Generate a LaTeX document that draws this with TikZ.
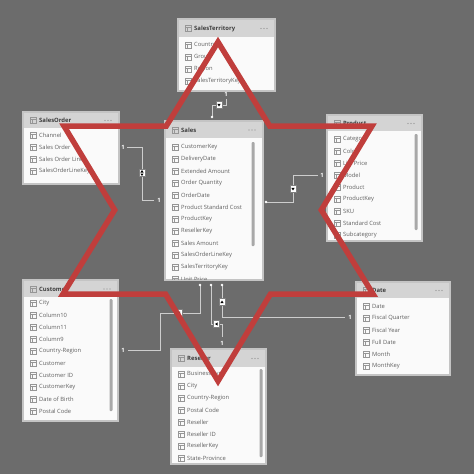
\documentclass[tikz,border=0pt]{standalone}
\usepackage{fontspec}
\setmainfont{Open Sans}
\usetikzlibrary{calc}
\definecolor{bg}{RGB}{108,108,108}
\definecolor{hdr}{RGB}{212,212,212}
\definecolor{body}{RGB}{250,250,250}
\definecolor{frame}{RGB}{196,196,196}
\definecolor{txt}{RGB}{95,95,95}
\definecolor{hdrtxt}{RGB}{60,60,60}
\definecolor{ico}{RGB}{150,150,150}
\definecolor{sb}{RGB}{168,168,168}
\definecolor{star}{RGB}{192,62,60}
\definecolor{conn}{RGB}{205,205,205}
\tikzset{
  hdrtext/.style={font=\fontsize{5.9}{7}\selectfont\bfseries, text=hdrtxt, inner sep=0, anchor=west},
  rowtext/.style={font=\fontsize{5.8}{7}\selectfont, text=txt, inner sep=0, anchor=west},
  tblicon/.style={draw=ico, line width=0.45pt},
  link/.style={draw=conn, line width=0.8pt},
  onelbl/.style={font=\fontsize{5.8}{7}\selectfont\bfseries, text=white, inner sep=0},
  enddot/.style={circle, fill=white, inner sep=0, minimum size=2.6pt},
  relicon/.style={fill=white, draw=black!50, line width=0.3pt, minimum width=6pt, minimum height=7pt, inner sep=0},
  starline/.style={draw=star, line width=5.5pt, line join=miter, miter limit=20},
}
% small table glyph centred vertically at y
\newcommand\tblglyph[2]{%
  \pgfmathsetmacro\gx{#1}\pgfmathsetmacro\gy{#2}%
  \draw[tblicon] (\gx,\gy-2.8) rectangle (\gx+6.5,\gy+2.8);
  \draw[tblicon] (\gx,\gy-1.2) -- (\gx+6.5,\gy-1.2);
  \draw[tblicon] (\gx+2.2,\gy-1.2) -- (\gx+2.2,\gy+2.8);
}
% name, left, top, right, header bottom, bottom, first row y, title, rows
\newcommand\dbtable[9]{%
  \fill[frame] (#2-1.6,#3-1.6) rectangle (#4+1.6,#6+1.6);
  \fill[body] (#2,#3) rectangle (#4,#6);
  \fill[hdr] (#2,#3) rectangle (#4,#5);
  \tblglyph{#2+6}{(#3+#5)/2}
  \node[hdrtext] (#1) at (#2+15,{(#3+#5)/2}) {#8};
  \foreach \dx in {-13,-10,-7}{\fill[black!45] (#4+\dx,{(#3+#5)/2}) circle (0.55);}
  \begin{scope}
    \clip (#2,#5) rectangle (#4,#6);
    \foreach \r [count=\k from 0] in {#9}{%
      \pgfmathsetmacro\ry{#7+12*\k}
      \tblglyph{#2+6}{\ry}
      \node[rowtext] (#1-\k) at (#2+15,\ry) {\r};
    }
  \end{scope}
}
\newcommand\scrollbar[3]{\fill[sb, rounded corners=1pt] (#1-1.5,#2) rectangle (#1+1.5,#3);}
\begin{document}
\begin{tikzpicture}[x=1pt,y=-1pt]
\fill[bg] (0,0) rectangle (474,474);
\useasboundingbox (0,0) rectangle (474,474);

% tables
\dbtable{territory}{179}{20}{274}{37}{90}{45}{SalesTerritory}{Country,Group,Region,SalesTerritoryKey}
\dbtable{salesorder}{24}{113}{118}{128}{183}{135}{SalesOrder}{Channel,Sales Order,Sales Order Line,SalesOrderLineKey}
\dbtable{sales}{166}{122}{262}{138}{279}{147}{Sales}{CustomerKey,DeliveryDate,Extended Amount,Order Quantity,OrderDate,Product Standard Cost,ProductKey,ResellerKey,Sales Amount,SalesOrderLineKey,SalesTerritoryKey,Unit Price}
\dbtable{product}{328}{116}{421}{131}{240}{139}{Product}{Category,Color,List Price,Model,Product,ProductKey,SKU,Standard Cost,Subcategory}
\dbtable{customer}{24}{281}{117}{297}{420}{303}{Customer}{City,Column10,Column11,Column9,Country-Region,Customer,Customer ID,CustomerKey,Date of Birth,Postal Code}
\dbtable{date}{357}{283}{449}{298}{374}{306}{Date}{Date,Fiscal Quarter,Fiscal Year,Full Date,Month,MonthKey}
\dbtable{reseller}{172}{350}{265}{367}{463}{374}{Reseller}{Business Type,City,Country-Region,Postal Code,Reseller,Reseller ID,ResellerKey,State-Province}
\scrollbar{253}{142}{246}
\scrollbar{416}{134}{230}
\scrollbar{111}{299}{411}
\scrollbar{261}{369}{457}

% connector end points
\coordinate (tA) at (226,99);  \coordinate (tB) at (212,117);
\coordinate (soA) at (127,147); \coordinate (soB) at (154,200);
\coordinate (pA) at (266,202); \coordinate (pB) at (318,175);
\coordinate (cA) at (200,285); \coordinate (cB) at (128,350);
\coordinate (rA) at (211,285); \coordinate (rB) at (222,337);
\coordinate (dA) at (222,285); \coordinate (dB) at (345,317);

% connectors
\draw[link] (tA) |- (212,105) -- (tB);
\draw[link] (soA) -| (142,200) -- (soB);
\draw[link] (pA) -| (293,175) -- (pB);
\draw[link] (cA) |- (160,313) |- (cB);
\draw[link] (rA) |- (222,324) -- (rB);
\draw[link] (dA) |- (dB);

% end dots
\node[enddot] (dt) at (tB) {};
\node[enddot] (dp) at (pA) {};
\node[enddot] (dc) at (cA) {};
\node[enddot] (dr) at (rA) {};
\node[enddot] (dd) at (dA) {};

% "1" labels
\node[onelbl] (l1) at (226,94) {1};
\node[onelbl] (l2) at (123,147) {1};
\node[onelbl] (l3) at (159,200) {1};
\node[onelbl] (l4) at (322,175) {1};
\node[onelbl] (l5) at (123,350) {1};
\node[onelbl] (l6) at (222,343) {1};
\node[onelbl] (l7) at (350,317) {1};

% relationship direction icons
\node[relicon] (iT) at (219,105) {};
\fill (iT.center) ++(-1.7,-1.2) -- ++(3.4,0) -- ++(-1.7,2.6) -- cycle;
\node[relicon] (iSO) at (142,173) {};
\fill (iSO.center) ++(-1.6,-0.5) -- ++(3.2,0) -- ++(-1.6,-2.4) -- cycle;
\fill (iSO.center) ++(-1.6,0.5) -- ++(3.2,0) -- ++(-1.6,2.4) -- cycle;
\node[relicon] (iP) at (293,189) {};
\fill (iP.center) ++(-1.7,-1.2) -- ++(3.4,0) -- ++(-1.7,2.6) -- cycle;
\node[relicon] (iC) at (179,313) {};
\fill (iC.center) ++(1.2,-1.7) -- ++(0,3.4) -- ++(-2.6,-1.7) -- cycle;
\node[relicon] (iR) at (216.5,324) {};
\fill (iR.center) ++(1.2,-1.7) -- ++(0,3.4) -- ++(-2.6,-1.7) -- cycle;
\node[relicon] (iD) at (222,302) {};
\fill (iD.center) ++(-1.7,1.2) -- ++(3.4,0) -- ++(-1.7,-2.6) -- cycle;

% red hexagram outline
\draw[starline] (218,42) -- (166.3,126) -- (64,126) -- (114.7,210) -- (63,294)
  -- (165.5,294) -- (218,381) -- (270.5,294) -- (373,294) -- (321.3,210)
  -- (372,126) -- (269.7,126) -- cycle;
\end{tikzpicture}
\end{document}
